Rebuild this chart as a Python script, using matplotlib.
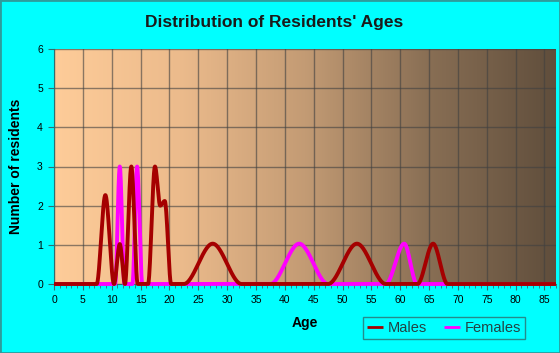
import numpy as np
import matplotlib
matplotlib.use("Agg")
import matplotlib.pyplot as plt
from matplotlib.colors import LinearSegmentedColormap
from matplotlib.patches import Rectangle

# ---- data (knot ages and values) ----
male_ages = [0, 7.4, 8.9, 10.4, 11.4, 12.3, 13.4, 14.5, 16.3, 17.5, 18.4, 19.2,
             20.3, 22.5, 27.5, 32.5, 47.5, 52.5, 57.5, 63.0, 65.7, 68.2, 87]
male_vals = [0, 0, 2.27, 0, 1.02, 0, 3.0, 0, 0, 3.0, 2.0, 2.12,
             0, 0, 1.03, 0, 0, 1.03, 0, 0, 1.03, 0, 0]
female_ages = [0, 10.6, 11.4, 12.2, 13.6, 14.4, 15.3, 37.5, 42.5, 47.5,
               57.5, 60.7, 62.9, 87]
female_vals = [0, 0, 3.0, 0, 0, 3.0, 0, 0, 1.03, 0, 0, 1.03, 0, 0]
x_ticks = list(range(0, 90, 5))
y_ticks = [0, 1, 2, 3, 4, 5, 6]


def pchip(x, y, xs):
    x = np.asarray(x, float); y = np.asarray(y, float)
    h = np.diff(x); d = np.diff(y) / h
    n = len(x); m = np.zeros(n)
    for k in range(1, n - 1):
        if d[k - 1] * d[k] > 0:
            w1 = 2 * h[k] + h[k - 1]; w2 = h[k] + 2 * h[k - 1]
            m[k] = (w1 + w2) / (w1 / d[k - 1] + w2 / d[k])
    idx = np.clip(np.searchsorted(x, xs) - 1, 0, n - 2)
    t = (xs - x[idx]) / h[idx]
    h00 = 2 * t**3 - 3 * t**2 + 1; h10 = t**3 - 2 * t**2 + t
    h01 = -2 * t**3 + 3 * t**2; h11 = t**3 - t**2
    return h00 * y[idx] + h10 * h[idx] * m[idx] + h01 * y[idx + 1] + h11 * h[idx] * m[idx + 1]


plt.rcParams['font.family'] = ['Liberation Sans', 'DejaVu Sans']

fig = plt.figure(figsize=(5.6, 3.53), dpi=100)
fig.patch.set_facecolor('#00FFFF')
fig.patches.append(Rectangle((0, 0), 1, 1, transform=fig.transFigure, fill=False,
                             edgecolor='#2E9C9C', linewidth=2, zorder=10))

ax = fig.add_axes([54 / 560, 1 - 284 / 353, (556 - 54) / 560, (284 - 49) / 353])
ax.set_xlim(0, 87)
ax.set_ylim(0, 6)

cmap = LinearSegmentedColormap.from_list('bg', [
    (0.0, (254/255, 204/255, 153/255)),
    (0.25, (236/255, 187/255, 140/255)),
    (0.5, (195/255, 155/255, 116/255)),
    (0.75, (136/255, 110/255, 84/255)),
    (1.0, (96/255, 78/255, 60/255))])
grad = np.linspace(0, 1, 256).reshape(1, -1)
ax.imshow(grad, cmap=cmap, aspect='auto', extent=(0, 87, 0, 6), zorder=0)

ax.set_xticks(x_ticks)
ax.set_xticks(range(0, 88), minor=True)
ax.set_yticks(y_ticks)
ax.grid(True, which='major', color='#404040', alpha=0.6, linewidth=1, zorder=1)
ax.tick_params(axis='both', which='major', labelsize=7.5, length=4, color='#2E7070', pad=4)
ax.tick_params(axis='x', which='minor', length=3, color='#2E7070')
for s in ['top', 'right']:
    ax.spines[s].set_visible(False)
for s in ['left', 'bottom']:
    ax.spines[s].set_color('#2E7070')

xs_m = np.linspace(0, 87, 2000)
ax.plot(xs_m, np.maximum(pchip(female_ages, female_vals, xs_m), 0), color='#FF00FF',
        linewidth=2.8, label='Females', zorder=3, clip_on=False, solid_capstyle='butt')
ax.plot(xs_m, np.maximum(pchip(male_ages, male_vals, xs_m), 0), color='#A50000',
        linewidth=2.8, label='Males', zorder=4, clip_on=False, solid_capstyle='butt')

ax.set_xlabel('Age', fontsize=10, fontweight='bold', labelpad=8)
ax.set_ylabel('Number of residents', fontsize=10, fontweight='bold', labelpad=10)
fig.text(0.49, 0.935, "Distribution of Residents' Ages", ha='center', va='center',
         fontsize=12.5, fontweight='bold', color='#1a1a1a')

handles, labels = ax.get_legend_handles_labels()
leg = fig.legend(handles[::-1], labels[::-1], loc='center', bbox_to_anchor=(444 / 560, 1 - 328 / 353),
                 ncol=2, fontsize=10.5, frameon=True, fancybox=False, handlelength=1.1,
                 handletextpad=0.3, columnspacing=1.2, borderpad=0.3)
leg.get_frame().set_facecolor('#00FFFF')
leg.get_frame().set_edgecolor('#2E7070')
leg.get_frame().set_linewidth(1)
for line in leg.get_lines():
    line.set_linewidth(2)
for t in leg.get_texts():
    t.set_color('#224444')

fig.savefig('out.png', dpi=100, facecolor=fig.get_facecolor())
